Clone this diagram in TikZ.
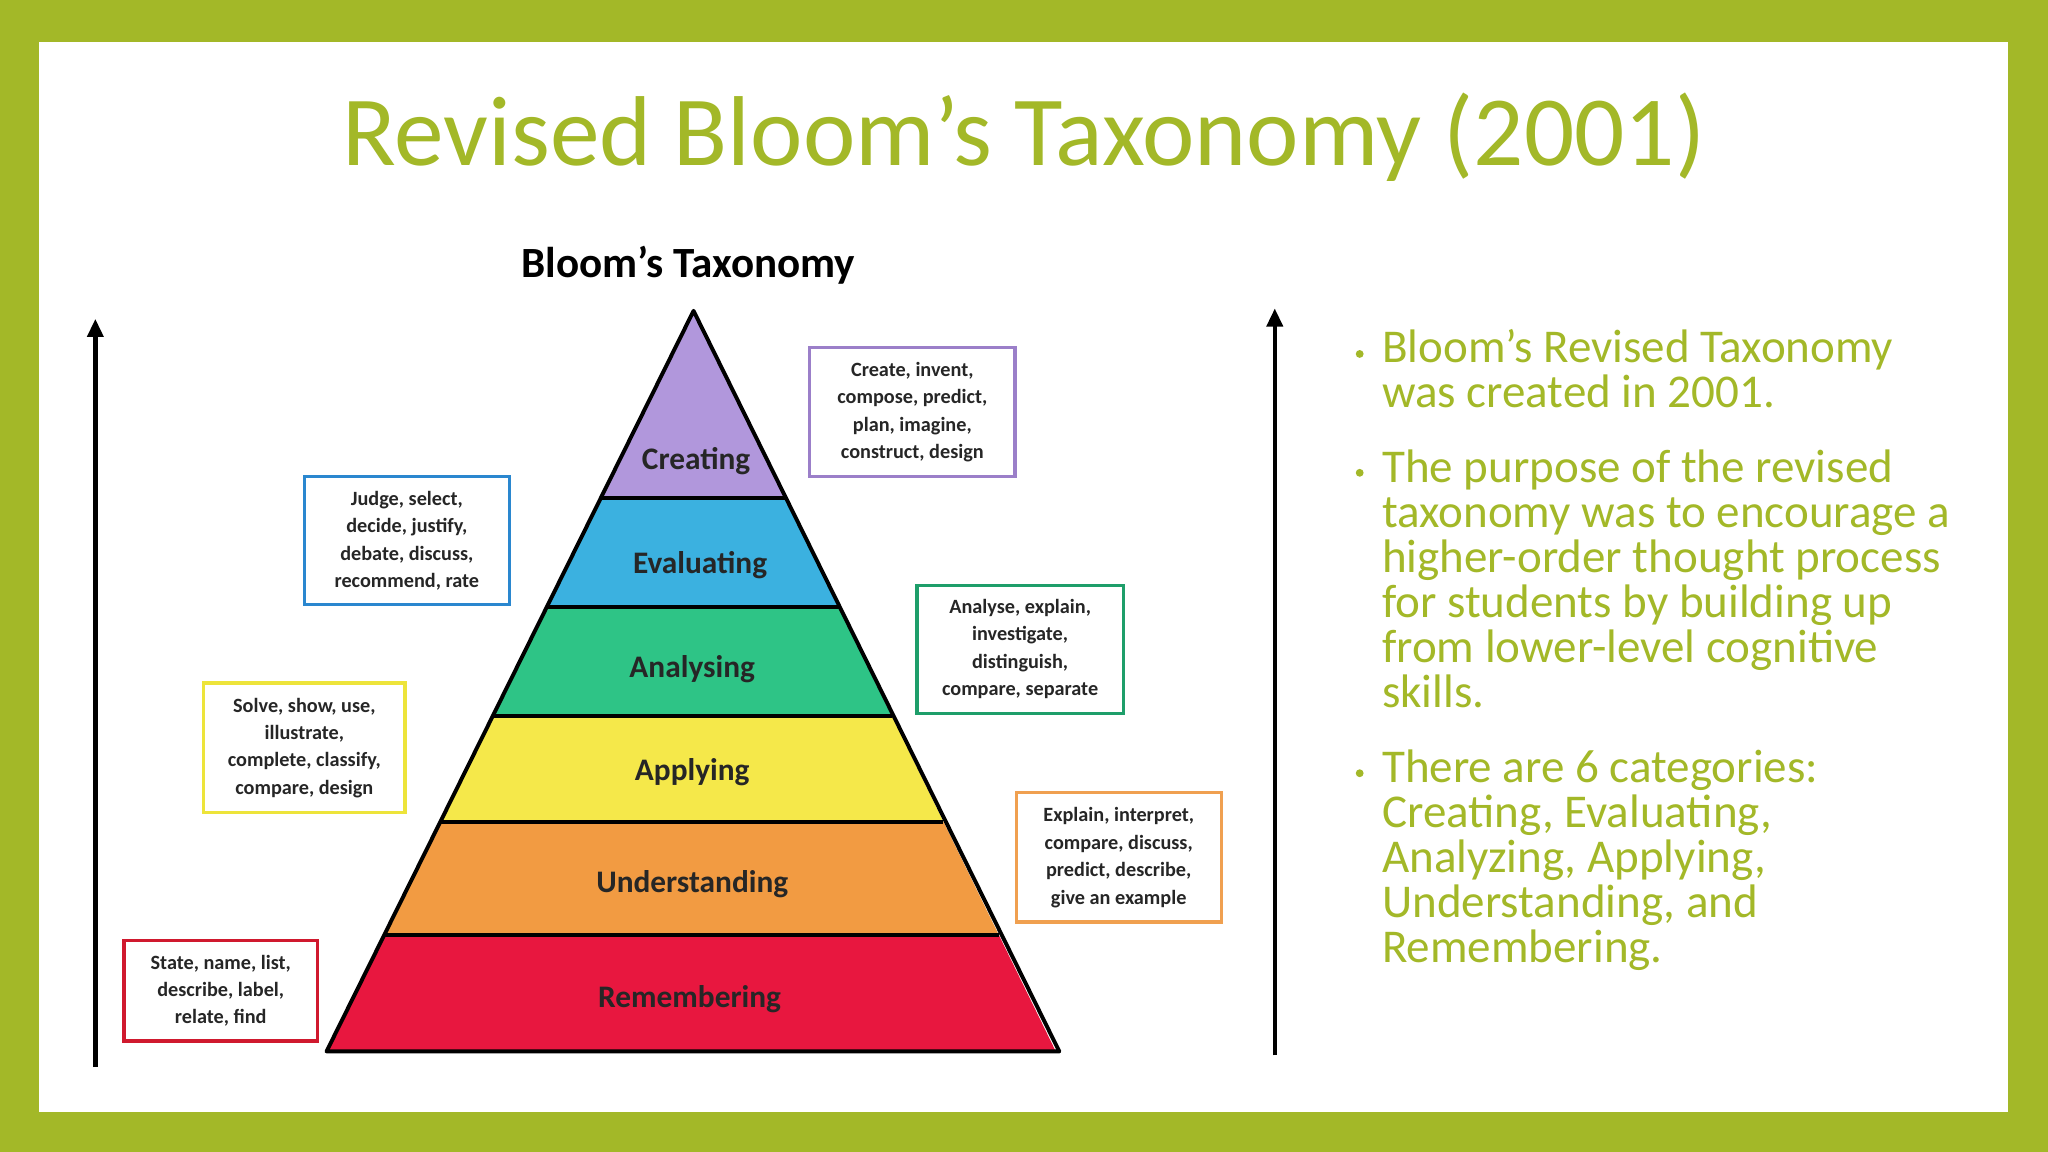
\documentclass[tikz,border=0pt]{standalone}
\usepackage{fontspec}
\setmainfont{Carlito}
\usetikzlibrary{arrows.meta}
\definecolor{frame}{HTML}{A3B828}
\definecolor{cPur}{HTML}{B197DC}
\definecolor{cBlu}{HTML}{3BB1E0}
\definecolor{cGrn}{HTML}{2EC486}
\definecolor{cYel}{HTML}{F5E84A}
\definecolor{cOra}{HTML}{F29B42}
\definecolor{cRed}{HTML}{E8173F}
\definecolor{bPur}{HTML}{9B7FC9}
\definecolor{bBlu}{HTML}{2A87CF}
\definecolor{bGrn}{HTML}{1E9E6A}
\definecolor{bYel}{HTML}{EDE43A}
\definecolor{bOra}{HTML}{F0A050}
\definecolor{bRed}{HTML}{D0192E}
\tikzset{
 lvl/.style={font=\fontsize{24}{28}\selectfont\bfseries, text=black!85},
 wbox/.style={draw=#1, line width=2.5pt, fill=white, inner sep=0pt, align=center, font=\fontsize{15.5}{21}\selectfont\bfseries, text=black!85},
 bul/.style={anchor=north west, align=left, inner sep=0pt, text=frame, font=\fontsize{36}{34.5}\selectfont},
 dot/.style={circle, fill=frame, inner sep=0pt, minimum size=6pt},
 varrow/.style={line width=3.5pt, -{Triangle[length=14pt,width=12pt]}}
}
\begin{document}
\begin{tikzpicture}[x=1pt,y=-1pt]
\useasboundingbox (0,0) rectangle (1568,882);
\fill[frame] (0,0) rectangle (1568,882);
\fill[white] (30,32) rectangle (1537,851);
\node[text=frame, font=\fontsize{76}{80}\selectfont] (title) at (784,105) {Revised Bloom’s Taxonomy (2001)};
\node[font=\fontsize{33}{36}\selectfont\bfseries] (sub) at (527,203) {Bloom’s Taxonomy};
% pyramid layers
\def\Lx#1{(531-0.4956*(#1-238))}
\def\Rx#1{(531+0.4891*(#1-238))}
\foreach \ya/\yb/\c in {238/381/cPur,381/465/cBlu,465/548/cGrn,548/629/cYel,629/716/cOra,716/805/cRed}{
  \fill[\c] ({531-0.4956*(\ya-238)},\ya) -- ({531+0.4891*(\ya-238)},\ya) -- ({531+0.4891*(\yb-238)},\yb) -- ({531-0.4956*(\yb-238)},\yb) -- cycle;
}
\foreach \y in {381,465,548,629,716}{
  \draw[line width=3pt] ({531-0.4956*(\y-238)},\y) -- ({531+0.4891*(\y-238)},\y);
}
\draw[line width=3pt, line join=round] (531,238) -- (250,805) -- (811,805) -- cycle;
\node[lvl] (creating) at (533,353) {Creating};
\node[lvl] (evaluating) at (536,433) {Evaluating};
\node[lvl] (analysing) at (530,512) {Analysing};
\node[lvl] (applying) at (530,591) {Applying};
\node[lvl] (understanding) at (530,677) {Understanding};
\node[lvl] (remembering) at (528,765) {Remembering};
% boxes
\node[wbox=bPur, minimum width=157pt, minimum height=99pt] (b1) at (698.5,315.5) {Create, invent,\\compose, predict,\\plan, imagine,\\construct, design};
\node[wbox=bBlu, minimum width=157pt, minimum height=98pt] (b2) at (311.5,414) {Judge, select,\\decide, justify,\\debate, discuss,\\recommend, rate};
\node[wbox=bGrn, minimum width=158pt, minimum height=98pt] (b3) at (781,497) {Analyse, explain,\\investigate,\\distinguish,\\compare, separate};
\node[wbox=bYel, minimum width=154pt, minimum height=99pt] (b4) at (233,572.5) {Solve, show, use,\\illustrate,\\complete, classify,\\compare, design};
\node[wbox=bOra, minimum width=157pt, minimum height=99pt] (b5) at (856.5,656.5) {Explain, interpret,\\compare, discuss,\\predict, describe,\\give an example};
\node[wbox=bRed, minimum width=148pt, minimum height=77pt] (b6) at (169,758.5) {State, name, list,\\describe, label,\\relate, find};
% arrows
\coordinate (la) at (73,817); \coordinate (lb) at (73,244);
\coordinate (ra) at (976,808); \coordinate (rb) at (976,236);
\draw[varrow] (la) -- (lb);
\draw[varrow] (ra) -- (rb);
% bullets
\node[dot] (d1) at (1041,271) {};
\node[dot] (d2) at (1041,362) {};
\node[dot] (d3) at (1041,592) {};
\node[bul] (t1) at (1058,252) {Bloom’s Revised Taxonomy\\was created in 2001.};
\node[bul] (t2) at (1058,344) {The purpose of the revised\\taxonomy was to encourage a\\higher-order thought process\\for students by building up\\from lower-level cognitive\\skills.};
\node[bul] (t3) at (1058,574) {There are 6 categories:\\Creating, Evaluating,\\Analyzing, Applying,\\Understanding, and\\Remembering.};
\end{tikzpicture}
\end{document}
